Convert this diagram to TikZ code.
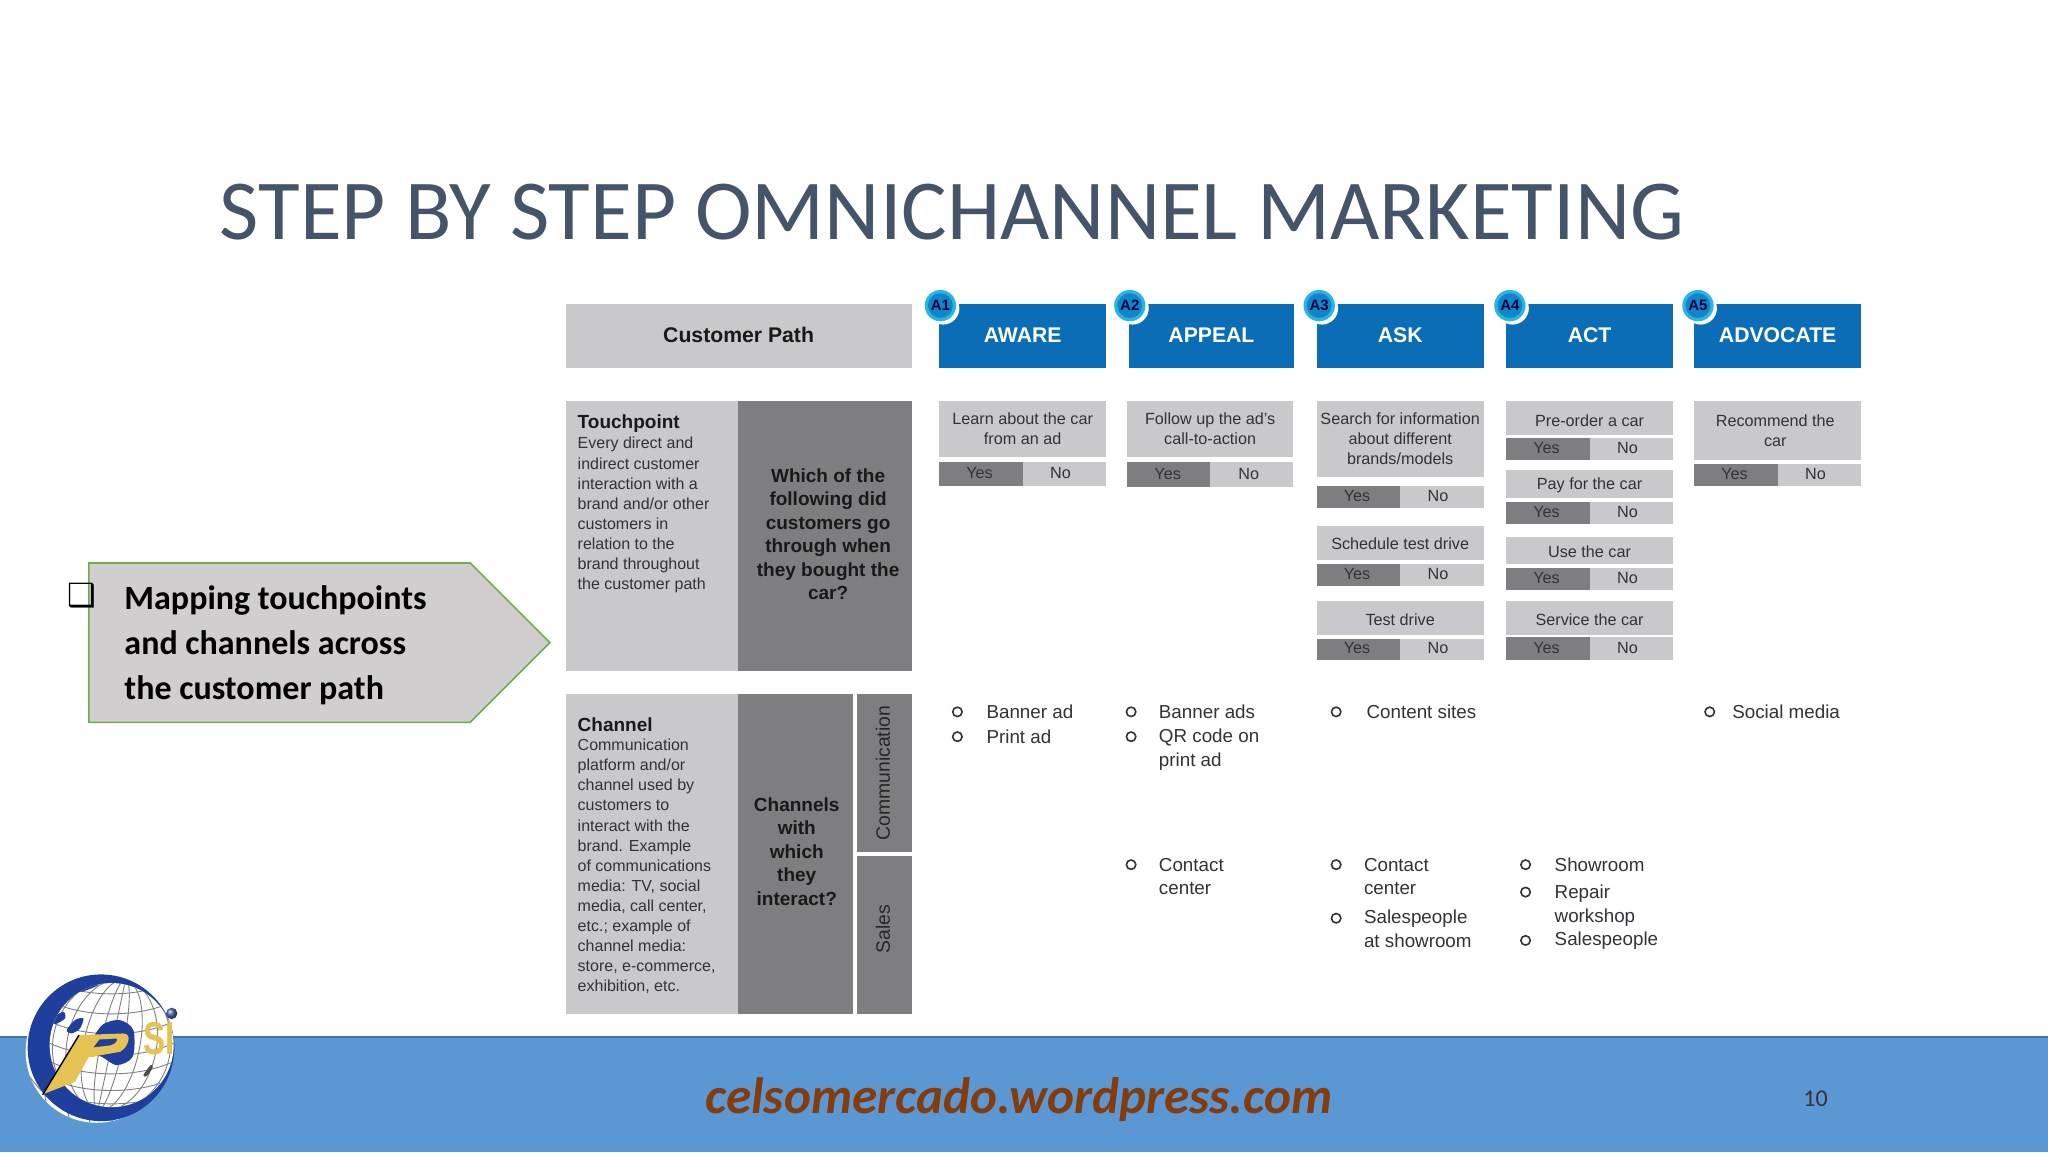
\documentclass[tikz,border=0pt]{standalone}
\usepackage{graphicx}
\usepackage{fontspec}
\setmainfont{Liberation Sans}
\newfontfamily\carlito{Carlito}
\newfontfamily\djv{DejaVu Sans}
\definecolor{lightg}{HTML}{C9C9CB}
\definecolor{darkg}{HTML}{7E7E80}
\definecolor{pathblue}{HTML}{0A6DB5}
\definecolor{inktxt}{HTML}{333335}
\definecolor{footblue}{HTML}{5B97D3}
\definecolor{footline}{HTML}{3F78A8}
\definecolor{titlec}{HTML}{44546A}
\definecolor{arrowg}{HTML}{D0CECE}
\definecolor{arrowb}{HTML}{70AD47}
\definecolor{urlc}{HTML}{843C0C}
\definecolor{logob}{HTML}{1F3F9C}
\definecolor{logoy}{HTML}{E6C252}
\definecolor{badgeo}{HTML}{2AB4E6}
\definecolor{badgei}{HTML}{0F86C9}
\tikzset{
  lfill/.style={fill=lightg},
  dfill/.style={fill=darkg},
  bfill/.style={fill=pathblue},
  txt/.style={inner sep=0pt,text=inktxt,font=\fontsize{8.1}{10}\selectfont,align=center},
  yn/.style={txt,text height=6.2pt,text depth=1.6pt},
  ltxt/.style={inner sep=0pt,text=inktxt,font=\fontsize{9.4}{11.7}\selectfont,align=left,anchor=west},
  desc/.style={inner sep=0pt,text=inktxt,font=\fontsize{8}{10.05}\selectfont,align=left,anchor=north west},
  bold/.style={inner sep=0pt,text=black!90,font=\fontsize{9.5}{11.75}\bfseries\selectfont,align=center},
  subh/.style={inner sep=0pt,anchor=north west,font=\fontsize{9.5}{12}\bfseries\selectfont,text=black!90},
  head/.style={inner sep=0pt,text=white,yshift=.7pt,font=\fontsize{10.6}{13}\bfseries\selectfont},
  vert/.style={rotate=90,inner sep=0pt,text=black!85,font=\fontsize{9.7}{11}\selectfont},
  bul/.style={draw=inktxt,line width=.8pt,fill=white},
  grid/.style={draw=gray,line width=.45pt},
}
% box: name, style, x1, y1, x2, y2, text style, text
\newcommand{\bx}[8]{\path[#2] (#3,#4) rectangle (#5,#6);
  \node[#7] (#1) at ({(#3+#5)/2},{(#4+#6)/2}) {#8};}
% yes/no row: prefix, x1, x2, y1, y2
\newcommand{\yesno}[5]{%
  \path[dfill] (#2,#4) rectangle ({(#2+#3)/2},#5);
  \path[lfill] ({(#2+#3)/2},#4) rectangle (#3,#5);
  \node[yn] (#1y) at ({#2+31},{(#4+#5)/2}) {Yes};
  \node[yn] (#1n) at ({#2+93},{(#4+#5)/2}) {No};}
% header with badge: name, x1, x2, label, badge x, badge text
\newcommand{\hd}[6]{\bx{#1}{bfill}{#2}{233}{#3}{282}{head}{#4}
  \fill[white] (#5+2,236) circle (12.5);
  \fill[badgeo] (#5,234) circle (12);
  \fill[badgei] (#5,234) circle (9.5);
  \node[inner sep=0pt,text=black!75!blue,font=\fontsize{7.5}{9}\bfseries\selectfont] (#1b) at (#5,234) {#6};}
\begin{document}
\begin{tikzpicture}[x=0.65306pt,y=-0.65306pt]
\useasboundingbox (0,0) rectangle (1568,882);
\fill[white] (0,0) rectangle (1568,882);
% title
\node[inner sep=0pt,anchor=base west,text=titlec,font=\carlito\fontsize{42.7}{50}\selectfont] (title) at (168,183.5) {STEP BY STEP OMNICHANNEL MARKETING};
% footer
\fill[footblue] (0,794) rectangle (1568,882);
\draw[footline,line width=.8pt] (0,794) -- (1568,794);
\node[inner sep=0pt,text=urlc,font=\carlito\fontsize{25.6}{30}\bfseries\itshape\selectfont] (url) at (780,842) {celsomercado.wordpress.com};
\node[inner sep=0pt,text=black!80,font=\carlito\fontsize{12}{14}\selectfont] (pg) at (1390,841) {10};
% left arrow
\draw[fill=arrowg,draw=arrowb,line width=.8pt] (68,431) -- (360,431) -- (421,492) -- (360,553) -- (68,553) -- cycle;
\node[inner sep=0pt,anchor=north west,align=left,text=black,font=\carlito\fontsize{17}{22.6}\bfseries\selectfont] (map) at (95,448) {Mapping touchpoints\\and channels across\\the customer path};
\node[inner sep=0pt,font=\djv\fontsize{16}{18}\selectfont,text=black] (chk) at (63,456) {❑};
% customer path
\bx{cp}{lfill}{433}{233}{698}{282}{bold,yshift=.7pt,font=\fontsize{10.6}{13}\bfseries\selectfont}{Customer Path}
\hd{aw}{719}{847}{AWARE}{720}{A1}
\hd{ap}{864}{991}{APPEAL}{865}{A2}
\hd{as}{1008}{1136}{ASK}{1010}{A3}
\hd{ac}{1153}{1281}{ACT}{1156}{A4}
\hd{ad}{1297}{1425}{ADVOCATE}{1300}{A5}
% touchpoint
\path[lfill] (433,307) rectangle (565,514);
\node[subh] (tp) at (442,317.5) {Touchpoint};
\node[desc] (tpd) at (442,334.5) {Every direct and\\indirect customer\\interaction with a\\brand and/or other\\customers in\\relation to the\\brand throughout\\the customer path};
\path[dfill] (565,307) rectangle (698,514);
\node[bold] (tq) at (634,409) {Which of the\\following did\\customers go\\through when\\they bought the\\car?};
% channel
\path[lfill] (433,531) rectangle (565,776);
\node[subh] (ch) at (442,549.5) {Channel};
\node[desc] (chd) at (442,565.5) {Communication\\platform and/or\\channel used by\\customers to\\interact with the\\brand. Example\\of communications\\media: TV, social\\media, call center,\\etc.; example of\\channel media:\\store, e-commerce,\\exhibition, etc.};
\path[dfill] (565,531) rectangle (653,776);
\node[bold] (cq) at (610,652) {Channels\\with\\which\\they\\interact?};
\path[dfill] (656,531) rectangle (698,652);
\node[vert] (comm) at (676,592) {Communication};
\path[dfill] (656,655) rectangle (698,776);
\node[vert] (sales) at (676,711.5) {Sales};
% A1
\bx{a1}{lfill}{719}{307}{847}{350}{txt}{Learn about the car\\from an ad}
\yesno{a1r}{719}{847}{354}{372}
% A2
\bx{a2}{lfill}{863}{307}{990}{350}{txt}{Follow up the ad's\\call-to-action}
\yesno{a2r}{863}{990}{354}{373}
% A3
\bx{a3a}{lfill}{1008}{307}{1136}{365}{txt}{Search for information\\about different\\brands/models}
\yesno{a3ar}{1008}{1136}{372}{389}
\bx{a3b}{lfill}{1008}{403}{1136}{429}{txt}{Schedule test drive}
\yesno{a3br}{1008}{1136}{432}{449}
\bx{a3c}{lfill}{1008}{460}{1136}{486}{txt,yshift=-.8pt}{Test drive}
\yesno{a3cr}{1008}{1136}{489}{505}
% A4
\bx{a4a}{lfill}{1153}{307}{1281}{333}{txt,yshift=-1.6pt}{Pre-order a car}
\yesno{a4ar}{1153}{1281}{335}{352}
\bx{a4b}{lfill}{1153}{360}{1281}{381}{txt,yshift=-.7pt}{Pay for the car}
\yesno{a4br}{1153}{1281}{384}{401}
\bx{a4c}{lfill}{1153}{411}{1281}{432}{txt,yshift=-.7pt}{Use the car}
\yesno{a4cr}{1153}{1281}{435}{452}
\bx{a4d}{lfill}{1153}{460}{1281}{486}{txt,yshift=-.8pt}{Service the car}
\yesno{a4dr}{1153}{1281}{488}{505}
% A5
\bx{a5}{lfill}{1297}{307}{1425}{352}{txt,xshift=-1.2pt}{Recommend the\\car}
\yesno{a5r}{1297}{1425}{355}{372}
% channel bullets
\foreach \bxx/\byy in {733/545,733/564,866/545,866/564,866/662,1023/545,1023/662,1023/703,1168/662,1168/683,1168/720,1309/545}
  \draw[bul] (\bxx,\byy) circle (3.6);
\node[ltxt] (l1) at (755,545) {Banner ad};
\node[ltxt] (l2) at (755,564) {Print ad};
\node[ltxt,anchor=north west] (l3) at (887,539) {Banner ads};
\node[ltxt,anchor=north west] (l4) at (887,558) {QR code on\\print ad};
\node[ltxt,anchor=north west] (l5) at (887,656.5) {Contact\\center};
\node[ltxt] (l6) at (1046,545) {Content sites};
\node[ltxt,anchor=north west] (l7) at (1044,656.5) {Contact\\center};
\node[ltxt,anchor=north west] (l8) at (1044,696.5) {Salespeople\\at showroom};
\node[ltxt] (l9) at (1190,662) {Showroom};
\node[ltxt,anchor=north west] (l10) at (1190,677.5) {Repair\\workshop};
\node[ltxt] (l11) at (1190,720.5) {Salespeople};
\node[ltxt] (l12) at (1326,545) {Social media};
% logo (units: 1/3 px of the full image)
\begin{scope}[shift={(0,727.4)},x=0.16668pt,y=-0.16668pt]
  \fill[white] (290,305) circle (213);
  \begin{scope}
    \clip (290,305) circle (213);
    \foreach \k in {-120,-60,0,60} \draw[grid] (\k+210,520) -- (\k+170,300);
    \draw[grid] (90,380) .. controls (150,470) and (250,510) .. (340,510);
  \end{scope}
  \fill[logob] (303,293) circle (220);
  \fill[white] (335,285) circle (186);
  \begin{scope}
    \clip (335,285) circle (186);
    \foreach \k in {0.18,0.45,0.72,0.95} {
      \draw[grid,rotate around={-12:(335,285)}] (335,285) ellipse ({186*\k} and 200);
    }
    \draw[grid,rotate around={-12:(335,285)}] (335,80) -- (335,490);
    \foreach \h in {125,185,245,310,365,415,455}
      \draw[grid] (140,\h-35) .. controls (250,\h+20) and (420,\h+20) .. (530,\h-35);
    \fill[logob] plot[smooth cycle] coordinates {(255,318) (280,262) (310,222) (360,210) (400,240) (398,320) (350,345) (300,318)};
    \fill[logob] plot[smooth cycle] coordinates {(200,240) (225,210) (250,205) (240,235) (215,250)};
    \fill[logob] plot[smooth cycle] coordinates {(215,125) (280,95) (295,105) (245,125)};
    \fill[logob] plot[smooth cycle] coordinates {(155,205) (190,185) (195,205) (165,222)};
    \fill[black!70] plot[smooth cycle] coordinates {(430,375) (452,345) (458,352) (440,378)};
  \end{scope}
  \shade[ball color=logob!80!white] (515,190) circle (17);
  \fill[logoy,even odd rule] (130,432) -- (237,255) -- (370,250) .. controls (398,250) and (385,292) .. (360,305) -- (265,322) -- (225,395) -- cycle
    (280,292) -- (298,268) -- (350,265) .. controls (355,272) and (345,283) .. (330,286) -- cycle;
  \draw[black,line width=.7pt] (128,434) -- (237,255);
  \node[inner sep=0pt,text=logoy,font=\fontsize{23}{25}\bfseries\selectfont] (si) at (478,265) {\scalebox{0.72}[1]{SI}};
\end{scope}
\end{tikzpicture}
\end{document}
